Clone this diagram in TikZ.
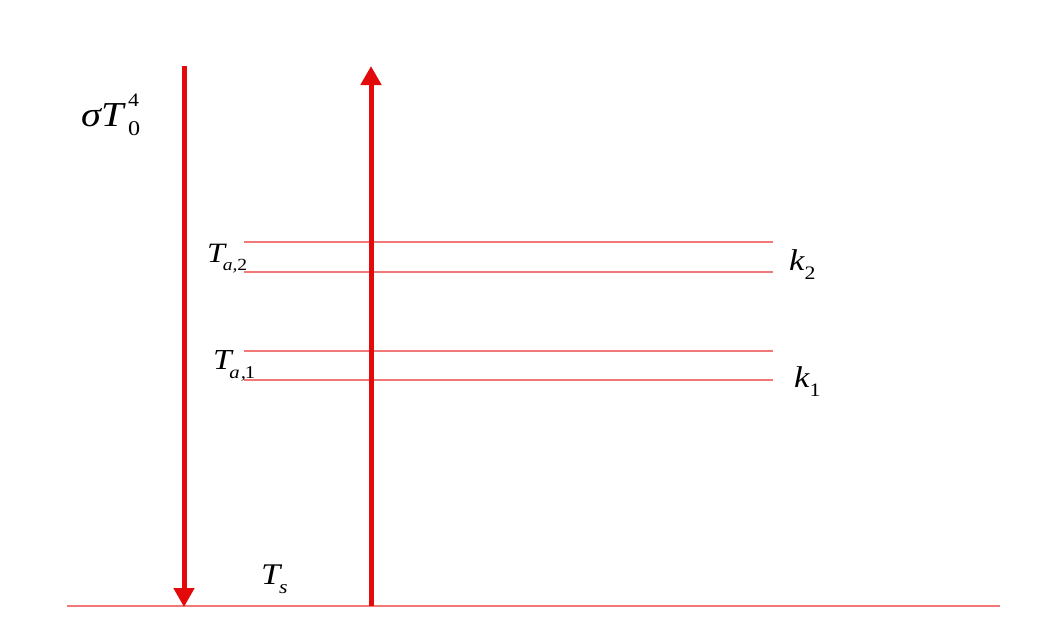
\documentclass[tikz,border=0pt]{standalone}
\usepackage{fontspec}
\setmainfont{Liberation Serif}
\usetikzlibrary{arrows.meta}
\definecolor{arrred}{RGB}{226,10,10}
\definecolor{linered}{RGB}{240,120,120}
\newcommand{\widen}[1]{\scalebox{1.15}[1]{#1}}
\begin{document}
\begin{tikzpicture}[x=1pt,y=-1pt,
  flux/.style={draw=arrred,line width=5pt,-{Triangle[width=20pt,length=19pt]}},
  layer/.style={draw=linered,line width=2pt},
  lbl/.style={inner sep=0pt,anchor=base west,text=black}]
\useasboundingbox (0,0) rectangle (1053,643);
% ground
\coordinate (gl) at (67,606);
\coordinate (gr) at (1000,606);
\draw[layer] (gl) -- (gr);
% layers
\coordinate (l2a) at (244,242); \coordinate (r2a) at (773,242);
\coordinate (l2b) at (244,272); \coordinate (r2b) at (773,272);
\coordinate (l1a) at (244,351); \coordinate (r1a) at (773,351);
\coordinate (l1b) at (244,380); \coordinate (r1b) at (773,380);
\draw[layer] (l2a) -- (r2a);
\draw[layer] (l2b) -- (r2b);
\draw[layer] (l1a) -- (r1a);
\draw[layer] (l1b) -- (r1b);
% arrows
\coordinate (dtop) at (184,66);
\coordinate (dbot) at (184,607);
\coordinate (ubot) at (371,606);
\coordinate (utop) at (371,66);
\draw[flux] (dtop) -- (dbot);
\draw[flux] (ubot) -- (utop);
% labels
\node[lbl] (sig) at (81,126) {\widen{\fontsize{35}{35}\selectfont\itshape σT\kern4pt\rlap{\raisebox{20pt}{\fontsize{19}{19}\selectfont\upshape 4}}\raisebox{-9pt}{\fontsize{21}{21}\selectfont\upshape 0}}};
\node[lbl] (ta2) at (207,262) {\widen{\fontsize{28}{28}\selectfont\itshape T\kern-2pt\raisebox{-8pt}{\fontsize{17}{17}\selectfont a,\upshape 2}}};
\node[lbl] (ta1) at (213,369) {\widen{\fontsize{29}{29}\selectfont\itshape T\kern-2pt\raisebox{-9pt}{\fontsize{18}{18}\selectfont a\kern1pt,\kern-1pt\upshape 1}}};
\node[lbl] (k2) at (789,270) {\widen{\fontsize{30}{30}\selectfont\itshape k\kern0pt\raisebox{-9pt}{\fontsize{19}{19}\selectfont\upshape 2}}};
\node[lbl] (k1) at (794,387) {\widen{\fontsize{30}{30}\selectfont\itshape k\kern0pt\raisebox{-9pt}{\fontsize{19}{19}\selectfont\upshape 1}}};
\node[lbl] (ts) at (261,584) {\widen{\fontsize{30}{30}\selectfont\itshape T\kern-1pt\raisebox{-9pt}{\fontsize{19}{19}\selectfont s}}};
\end{tikzpicture}
\end{document}
